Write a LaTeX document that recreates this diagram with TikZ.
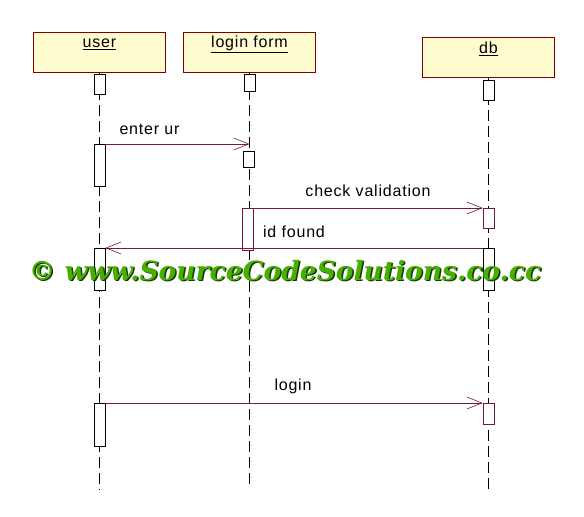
\documentclass[tikz,border=0pt]{standalone}
\usepackage{fontspec}
\setmainfont{Liberation Sans}[LetterSpace=5]
\newfontfamily\markfont{DejaVu Serif}
\usetikzlibrary{arrows.meta}

\definecolor{boxfill}{RGB}{255,252,208}
\definecolor{boxline}{RGB}{128,0,0}
\definecolor{msgline}{RGB}{118,24,64}
\definecolor{markgreen}{RGB}{70,175,0}
\definecolor{markdark}{RGB}{20,60,0}

\begin{document}
\begin{tikzpicture}[x=1pt, y=-1pt, font=\fontsize{16}{18}\selectfont,
		head/.style={draw=boxline, fill=boxfill, line width=0.8pt, minimum width=132pt, minimum height=40pt, inner sep=0pt},
		act/.style={draw=black, fill=white, line width=0.6pt, minimum width=11pt, minimum height=#1, inner sep=0pt, anchor=north},
		life/.style={line width=0.6pt, dash pattern=on 11pt off 5pt},
		msg/.style={draw=msgline, line width=0.6pt, -{Straight Barb[length=15pt,width=12pt]}}]
			\useasboundingbox (0,0) rectangle (584,517);
			
			% objects
			\node[head] (user) at (99.5,52.5) {};
			\node[head] (login) at (249.5,52.5) {};
			\node[head] (db) at (488.5,57.5) {};
			\node (usertxt) at (99.5,44) {\underline{user}};
			\node (logintxt) at (249.5,44) {\underline{login form}};
			\node (dbtxt) at (488.5,49) {\underline{db}};
			
			% lifelines
			\coordinate (userend) at (99.5,490);
			\coordinate (loginend) at (249.5,486);
			\coordinate (dbend) at (488.5,492);
			\draw [life] (user) to (userend);
			\draw [life] (login) to (loginend);
			\draw [life] (db) to (dbend);
			
			% activations
			\node[act=20pt] (u1) at (99.5,74) {};
			\node[act=42pt] (u2) at (99.5,144) {};
			\node[act=42pt] (u3) at (99.5,248) {};
			\node[act=43pt] (u4) at (99.5,403) {};
			\node[act=17pt] (l1) at (249.5,74) {};
			\node[act=16pt] (l2) at (248.5,151) {};
			\node[act=42pt, draw=msgline] (l3) at (247.5,208) {};
			\node[act=20pt] (d1) at (488.5,80) {};
			\node[act=20pt, draw=msgline] (d2) at (488.5,208) {};
			\node[act=42pt] (d3) at (488.5,248) {};
			\node[act=21pt, draw=msgline] (d4) at (488.5,403) {};
			
			% messages
			\draw [msg] (u2.north east) to (login |- u2.north east);
			\draw [msg] (l3.north east) to (d2.north west);
			\draw [msg] (d3.north west) to (u3.north east);
			\draw [msg] (u4.north east) to (d4.north west);
			
			\node[anchor=west] (enterlbl) at (116,129) {enter ur};
			\node (checklbl) at (368,191) {check validation};
			\node (foundlbl) at (294,232) {id found};
			\node (loginlbl) at (293,386) {login};
			
			% watermark
			\node[text=markdark, font=\markfont\bfseries\itshape\fontsize{26.5}{30}\selectfont] (markshadow) at (286.5,272) {© www.SourceCodeSolutions.co.cc};
			\node[text=markgreen, font=\markfont\bfseries\itshape\fontsize{26.5}{30}\selectfont] (mark) at (285,270.5) {© www.SourceCodeSolutions.co.cc};
		\end{tikzpicture}
\end{document}
